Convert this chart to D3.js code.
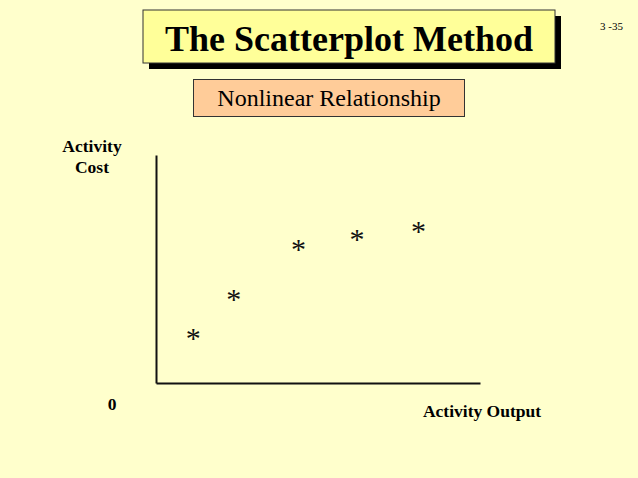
<!DOCTYPE html>
<html>
<head>
<meta charset="utf-8">
<script src="https://cdn.jsdelivr.net/npm/d3@7"></script>
<style>
  html, body { margin: 0; padding: 0; background: #ffffcc; }
  svg { display: block; }
  text { font-family: "Liberation Serif", "Times New Roman", Times, "DejaVu Serif", serif; }
</style>
</head>
<body>
<div id="chart"></div>
<script>
// Chart values
var outputs = [1.15, 2.4, 4.4, 6.2, 8.1];   // activity output (x)
var costs   = [2.1, 3.8, 6.0, 6.45, 6.8];   // activity cost (y)
var titleText = "The Scatterplot Method";
var subtitleText = "Nonlinear Relationship";
var slideNo = "3 -35";
var yLabel = ["Activity", "Cost"];
var xLabel = "Activity Output";
var originLabel = "0";

var width = 638, height = 478;

var svg = d3.select("#chart").append("svg")
    .attr("width", width).attr("height", height);

svg.append("rect").attr("width", width).attr("height", height).attr("fill", "#ffffcc");

// Title box with drop shadow
svg.append("rect").attr("x", 149).attr("y", 16).attr("width", 412).attr("height", 53).attr("fill", "#000");
svg.append("rect").attr("x", 143).attr("y", 10).attr("width", 412).attr("height", 53)
   .attr("fill", "#ffff99").attr("stroke", "#333").attr("stroke-width", 1);
svg.append("text").text(titleText)
   .attr("x", 349).attr("y", 51).attr("text-anchor", "middle")
   .style("font-weight", "bold").style("font-size", "36px");

svg.append("text").text(slideNo)
   .attr("x", 600).attr("y", 30)
   .style("font-weight", "normal").style("font-size", "11px");

// Subtitle box
svg.append("rect").attr("x", 193.5).attr("y", 79.5).attr("width", 271).attr("height", 37)
   .attr("fill", "#ffcc99").attr("stroke", "#333").attr("stroke-width", 1);
svg.append("text").text(subtitleText)
   .attr("x", 329).attr("y", 106).attr("text-anchor", "middle")
   .style("font-weight", "normal").style("font-size", "24px");

// Scales
var x = d3.scaleLinear().domain([0, 10]).range([156, 480]);
var y = d3.scaleLinear().domain([0, 10]).range([383, 155]);

// Axes: plain lines, no ticks
svg.append("g").attr("transform", "translate(0," + y(0) + ")")
   .call(d3.axisBottom(x).tickValues([]).tickSizeOuter(0));
svg.append("g").attr("transform", "translate(" + x(0) + ",0)")
   .call(d3.axisLeft(y).tickValues([]).tickSizeOuter(0));
svg.selectAll(".domain").attr("stroke", "#111").attr("stroke-width", 2);

// Asterisk points
svg.selectAll("text.pt")
   .data(outputs.map(function (d, i) { return {x: d, y: costs[i]}; }))
   .enter().append("text").attr("class", "pt")
   .text("*")
   .attr("x", function (d) { return x(d.x); })
   .attr("y", function (d) { return y(d.y) + 13; })
   .attr("text-anchor", "middle")
   .style("font-size", "30px").attr("fill", "#111");

// Labels
svg.selectAll("text.ylab")
   .data(yLabel).enter().append("text").attr("class", "ylab")
   .text(function (d) { return d; })
   .attr("x", 92).attr("y", function (d, i) { return 152 + i * 21; })
   .attr("text-anchor", "middle")
   .style("font-weight", "bold").style("font-size", "17.5px");

svg.append("text").text(originLabel)
   .attr("x", 112).attr("y", 410).attr("text-anchor", "middle")
   .style("font-weight", "bold").style("font-size", "17.5px");

svg.append("text").text(xLabel)
   .attr("x", 482).attr("y", 417).attr("text-anchor", "middle")
   .style("font-weight", "bold").style("font-size", "17.5px");
</script>
</body>
</html>
